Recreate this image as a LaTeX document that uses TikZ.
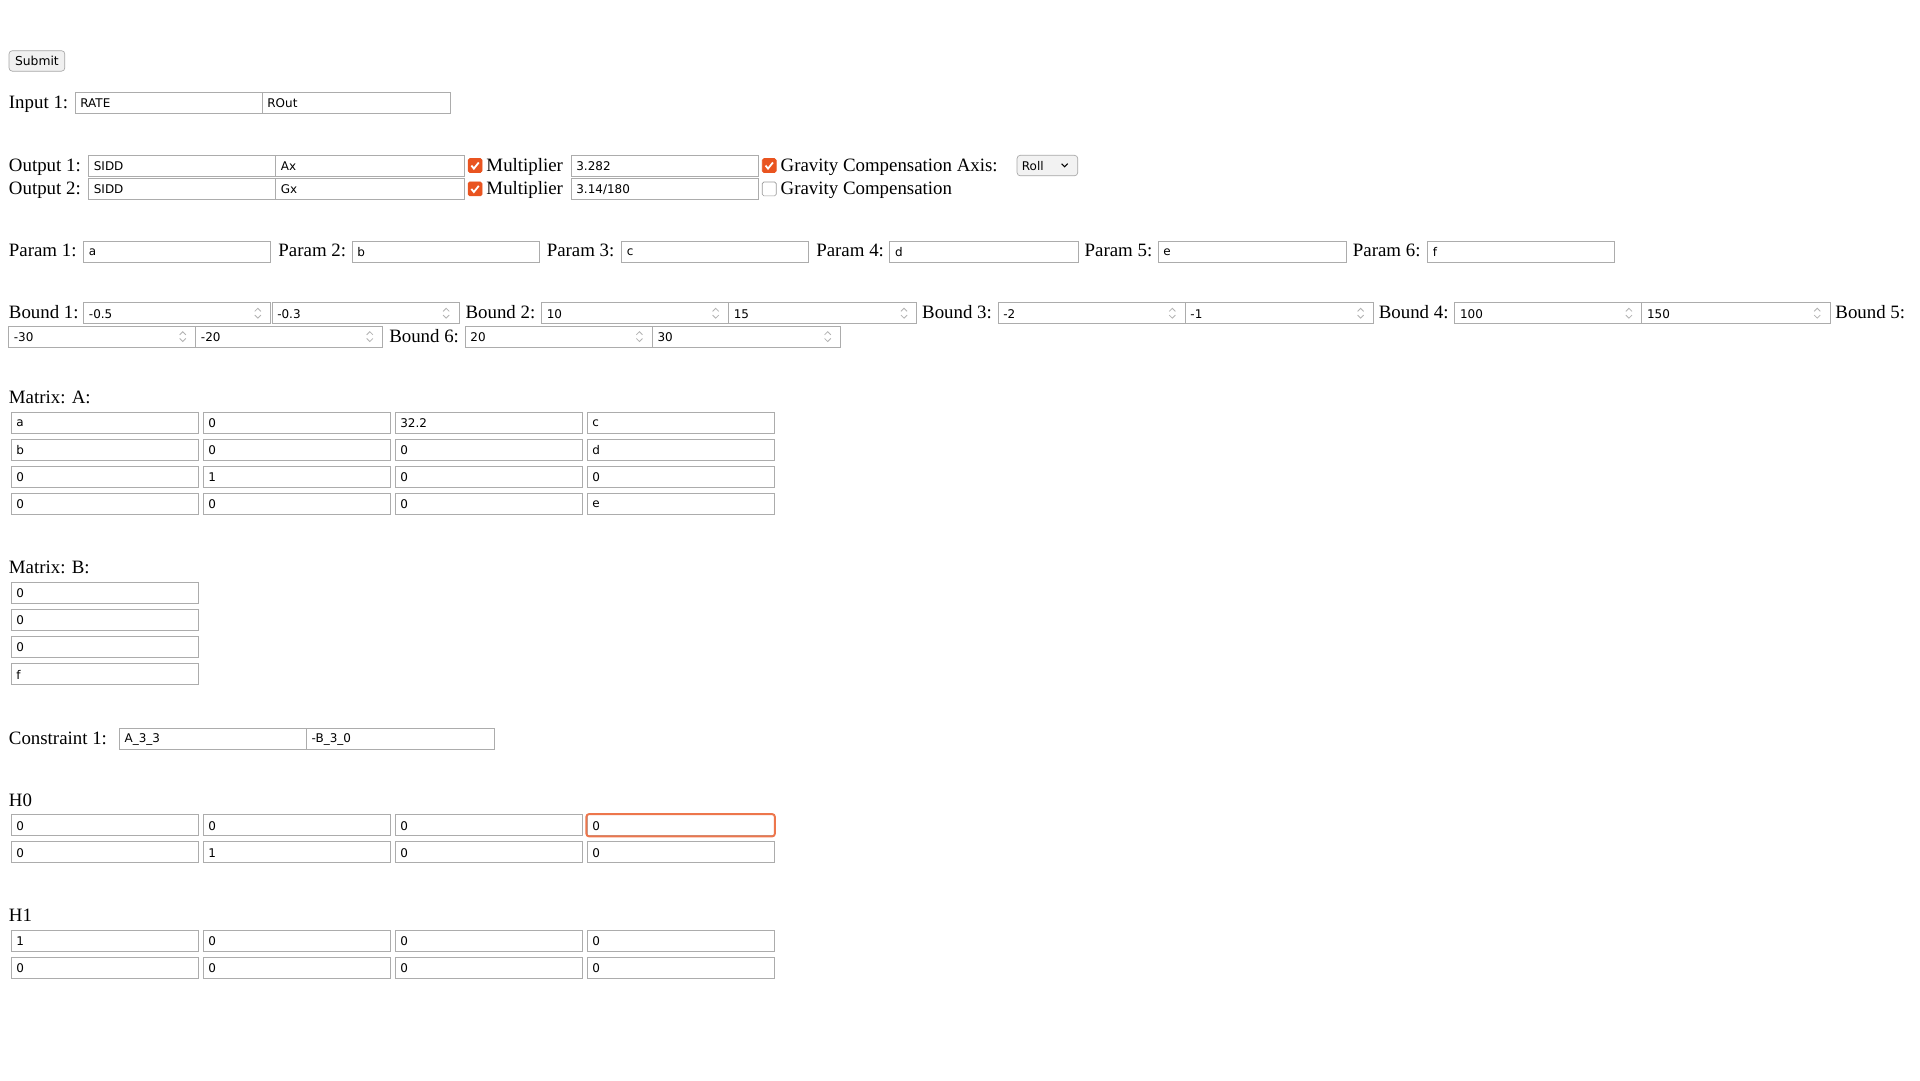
\documentclass[tikz,border=0pt]{standalone}
\usepackage{fontspec}
\setmainfont{Liberation Serif}
\newfontfamily\boxfont{DejaVu Sans}
\definecolor{ubo}{HTML}{E95420}
\tikzset{
 lbl/.style={anchor=base west,inner sep=0pt,font=\fontsize{11.5}{12}\selectfont},
 fld/.style={draw=gray!65,fill=white,line width=0.6pt},
 ftxt/.style={anchor=west,inner sep=0pt,font=\boxfont\fontsize{7.3}{8}\selectfont},
}
\newcommand\tb[5]{\draw[fld] (#2,#4) rectangle (#3,#4+17);\node[ftxt] (#1) at (#2+4,#4+9) {#5};}
\newcommand\spinbox[5]{\tb{#1}{#2}{#3}{#4}{#5}%
 \draw[gray!60,line width=0.5pt] (#3-13,#4+7) -- (#3-10.5,#4+4.5) -- (#3-8,#4+7);
 \draw[gray!60,line width=0.5pt] (#3-13,#4+10) -- (#3-10.5,#4+12.5) -- (#3-8,#4+10);}
\newcommand\ckon[3]{\node[draw=ubo,fill=ubo,rounded corners=1pt,minimum size=8.5pt,inner sep=0pt] (#1) at (#2,#3) {};
 \draw[white,line width=1.1pt] (#2-3,#3) -- (#2-1,#3+2.5) -- (#2+3,#3-2.5);}
\begin{document}
\begin{tikzpicture}[x=0.75pt,y=-0.75pt]
\useasboundingbox (0,0) rectangle (1560,877.5);
\node[draw=gray!70,fill=gray!12,rounded corners=2pt,inner sep=0pt,
 minimum width=34pt,minimum height=12.5pt,font=\boxfont\fontsize{7.5}{8}\selectfont] (submit) at (30,49.5) {Submit};
\node[lbl] (in1) at (7,88) {Input 1:};
\tb{in1a}{61}{213}{75}{RATE}\tb{in1b}{213}{366}{75}{ROut}
\node[lbl] (o1) at (7,139) {Output 1:};
\tb{o1a}{72}{224}{126}{SIDD}\tb{o1b}{224}{377}{126}{Ax}
\ckon{o1c}{386}{134.5}
\node[lbl] (o1m) at (395,139) {Multiplier};
\tb{o1v}{464}{616}{126}{3.282}
\ckon{o1g}{625}{134.5}
\node[lbl] (o1gl) at (634,139) {Gravity Compensation Axis:};
\node[draw=gray!70,fill=gray!10,rounded corners=2pt,minimum width=37pt,minimum height=12.5pt,inner sep=0pt] (sel) at (851,134.5) {};
\node[ftxt] (selt) at (830,134.5) {Roll};
\draw[line width=0.7pt] (862.5,133) -- (865,135.5) -- (867.5,133);
\node[lbl] (o2) at (7,158) {Output 2:};
\tb{o2a}{72}{224}{145}{SIDD}\tb{o2b}{224}{377}{145}{Gx}
\ckon{o2c}{386}{153.5}
\node[lbl] (o2m) at (395,158) {Multiplier};
\tb{o2v}{464}{616}{145}{3.14/180}
\node[draw=gray!80,fill=white,rounded corners=1pt,minimum size=8.5pt,inner sep=0pt] (o2g) at (625,153.5) {};
\node[lbl] (o2gl) at (634,158) {Gravity Compensation};
\node[lbl] (p1) at (7,208) {Param 1:}; \tb{p1v}{68}{220}{196}{a}
\node[lbl] (p2) at (226,208) {Param 2:}; \tb{p2v}{286}{438}{196}{b}
\node[lbl] (p3) at (444,208) {Param 3:}; \tb{p3v}{505}{657}{196}{c}
\node[lbl] (p4) at (663,208) {Param 4:}; \tb{p4v}{723}{876}{196}{d}
\node[lbl] (p5) at (881,208) {Param 5:}; \tb{p5v}{941}{1094}{196}{e}
\node[lbl] (p6) at (1099,208) {Param 6:}; \tb{p6v}{1160}{1312}{196}{f}
\node[lbl] (b1) at (7,259) {Bound 1:}; \spinbox{b1a}{68}{220}{246}{-0.5}\spinbox{b1b}{221}{373}{246}{-0.3}
\node[lbl] (b2) at (378,259) {Bound 2:}; \spinbox{b2a}{440}{592}{246}{10}\spinbox{b2b}{592}{745}{246}{15}
\node[lbl] (b3) at (749,259) {Bound 3:}; \spinbox{b3a}{811}{963}{246}{-2}\spinbox{b3b}{963}{1116}{246}{-1}
\node[lbl] (b4) at (1120,259) {Bound 4:}; \spinbox{b4a}{1182}{1334}{246}{100}\spinbox{b4b}{1334}{1487}{246}{150}
\node[lbl] (b5) at (1491,259) {Bound 5:};
\spinbox{b5a}{7}{159}{265}{-30}\spinbox{b5b}{159}{311}{265}{-20}
\node[lbl] (b6) at (316,278) {Bound 6:}; \spinbox{b6a}{378}{530}{265}{20}\spinbox{b6b}{530}{683}{265}{30}
\node[lbl] (ma) at (7,328) {Matrix: A:};
\foreach \r/\y/\a/\b/\c/\d in {1/335/a/0/32.2/c,2/357/b/0/0/d,3/379/0/1/0/0,4/401/0/0/0/e}{
 \tb{A\r1}{9}{161}{\y}{\a}\tb{A\r2}{165}{317}{\y}{\b}\tb{A\r3}{321}{473}{\y}{\c}\tb{A\r4}{477}{629}{\y}{\d}}
\node[lbl] (mb) at (7,466) {Matrix: B:};
\foreach \r/\y/\a in {1/473/0,2/495/0,3/517/0,4/539/f}{\tb{B\r}{9}{161}{\y}{\a}}
\node[lbl] (c1) at (7,605) {Constraint 1:};
\tb{c1a}{97}{249}{592}{A\_3\_3}\tb{c1b}{249}{402}{592}{-B\_3\_0}
\node[lbl] (h0) at (7,655) {H0};
\foreach \r/\y/\a/\b/\c/\d in {1/662/0/0/0/0,2/684/0/1/0/0}{
 \tb{Ha\r1}{9}{161}{\y}{\a}\tb{Ha\r2}{165}{317}{\y}{\b}\tb{Ha\r3}{321}{473}{\y}{\c}\tb{Ha\r4}{477}{629}{\y}{\d}}
\draw[ubo!80,line width=1.2pt,rounded corners=1.5pt] (476.5,661.5) rectangle (629.5,679.5);
\node[lbl] (h1) at (7,749) {H1};
\foreach \r/\y/\a/\b/\c/\d in {1/756/1/0/0/0,2/778/0/0/0/0}{
 \tb{Hb\r1}{9}{161}{\y}{\a}\tb{Hb\r2}{165}{317}{\y}{\b}\tb{Hb\r3}{321}{473}{\y}{\c}\tb{Hb\r4}{477}{629}{\y}{\d}}
\end{tikzpicture}
\end{document}
